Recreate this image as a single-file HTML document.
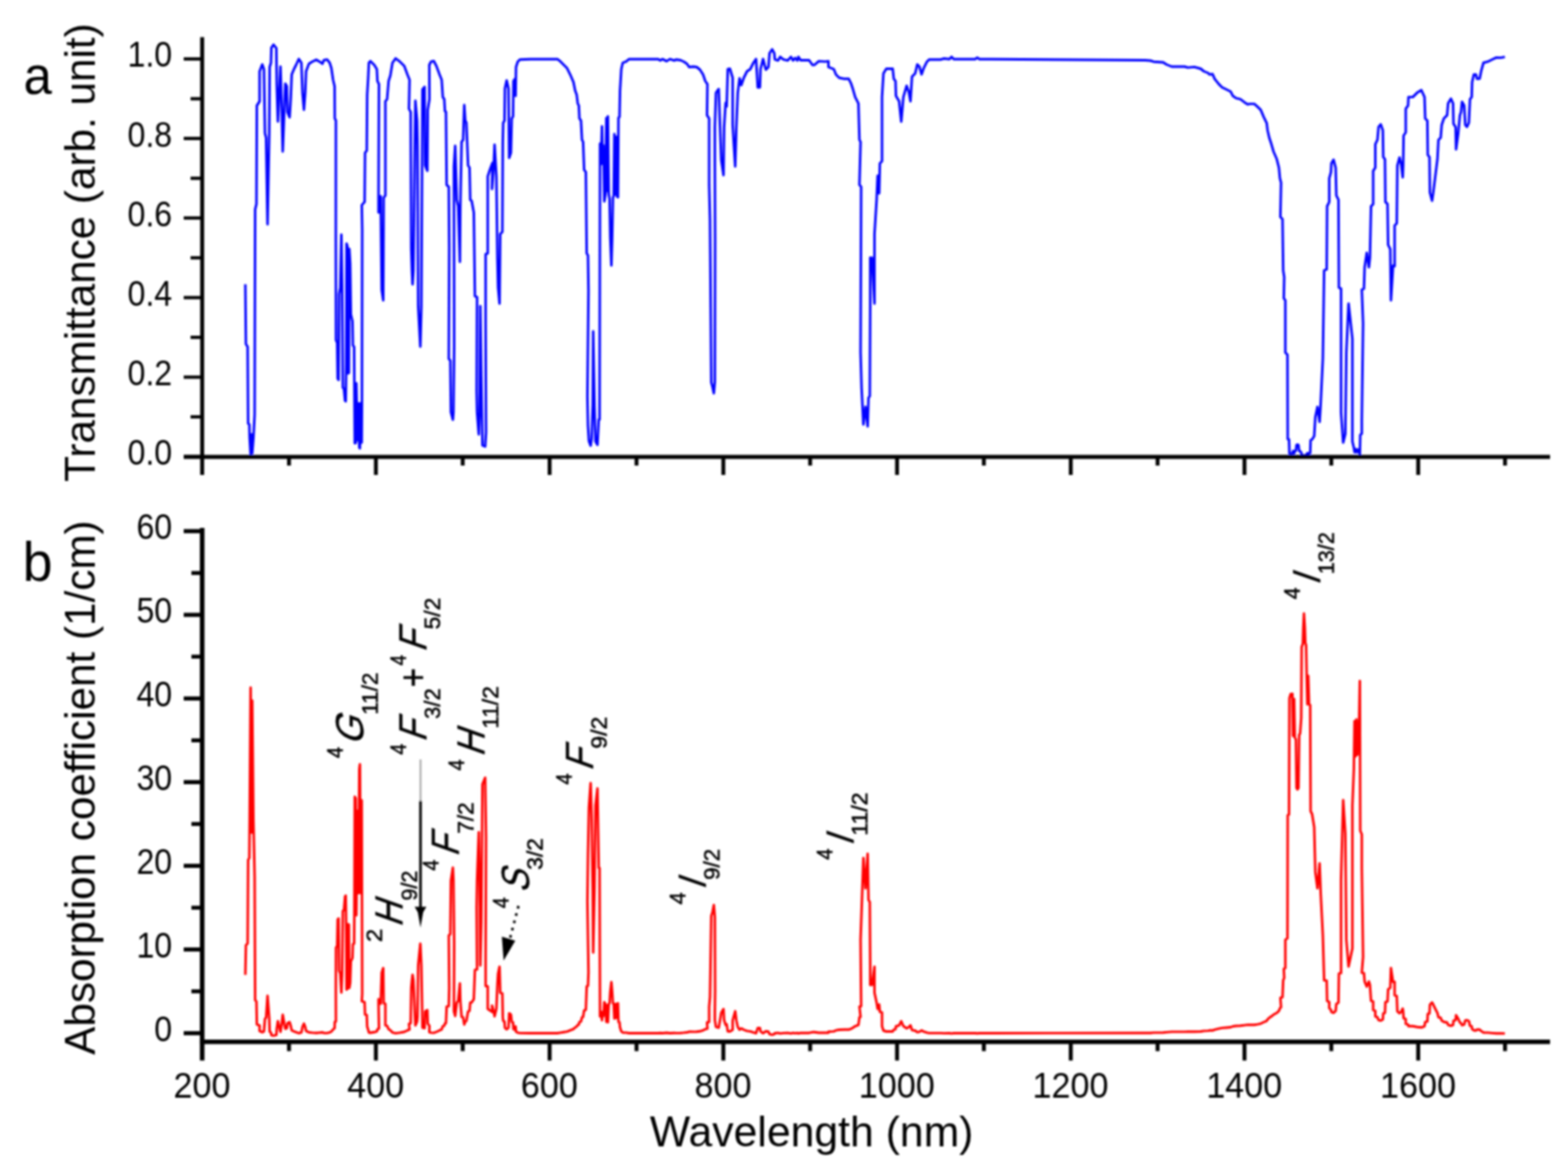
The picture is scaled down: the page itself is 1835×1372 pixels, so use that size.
<!DOCTYPE html>
<html><head><meta charset="utf-8"><title>Spectra</title>
<style>html,body{margin:0;padding:0;background:#fff;}svg{display:block;}</style></head>
<body>
<svg width="1835" height="1372" viewBox="0 0 1835 1372">
<defs><filter id="bl" x="-2%" y="-2%" width="104%" height="104%"><feGaussianBlur stdDeviation="0.85"/></filter></defs>
<rect width="1835" height="1372" fill="#fff"/>
<g filter="url(#bl)">
<polyline fill="none" stroke="#0000ff" stroke-width="2.9" stroke-linejoin="round" points="287.1,332.7 287.8,402.8 289.8,406.0 290.4,495.9 291.8,496.8 292.2,513.1 293.3,531.3 294.4,508.4 295.2,530.6 296.6,512.6 298.0,485.1 298.6,245.1 300.1,238.9 300.6,123.6 303.8,118.6 303.8,83.5 306.9,75.4 308.9,81.0 310.1,156.2 311.4,161.2 313.1,262.6 315.1,156.2 315.6,78.5 317.1,73.5 317.6,55.9 320.1,52.3 323.4,56.4 323.9,98.6 325.2,142.3 328.2,77.9 329.4,116.1 330.9,177.4 332.7,128.6 333.9,98.0 335.7,101.1 336.4,131.1 338.9,137.3 340.2,116.1 341.4,87.3 344.0,81.0 346.5,76.0 349.7,69.1 352.7,73.5 354.0,108.6 355.7,128.5 357.2,108.6 358.2,83.5 361.5,74.7 365.3,72.2 370.3,69.9 374.0,72.2 377.3,74.6 379.0,70.5 382.8,69.7 385.8,73.5 387.8,79.8 389.8,93.5 391.6,101.1 391.8,138.7 393.1,141.0 393.0,282.3 393.2,398.2 394.6,401.2 395.2,443.3 396.2,444.8 396.9,344.2 398.2,337.1 399.5,274.7 400.4,334.7 401.2,453.8 402.5,454.8 403.8,469.0 404.6,469.8 405.2,426.2 405.6,285.3 406.6,288.4 407.5,437.1 408.3,436.4 408.8,291.4 409.8,308.6 410.6,368.2 412.5,376.2 413.0,404.4 414.4,406.0 414.7,447.7 415.2,518.9 416.3,518.6 417.0,448.7 418.4,515.4 419.5,472.2 420.5,524.0 421.2,524.8 422.0,472.2 422.5,518.2 423.3,518.1 423.6,472.2 423.9,269.6 423.4,240.1 426.7,236.4 427.2,178.8 429.2,176.3 429.7,111.1 430.9,91.0 431.7,73.5 433.4,71.6 438.0,76.0 441.0,81.0 441.7,94.8 443.5,98.6 443.0,228.9 443.0,248.8 445.5,229.6 446.7,339.2 448.5,351.6 449.0,231.4 451.0,228.9 451.0,118.6 453.0,116.1 454.8,94.8 456.8,88.5 459.3,73.5 463.0,68.4 468.0,72.2 473.1,77.2 476.8,87.3 479.3,93.5 478.6,127.4 480.6,131.1 481.3,291.6 482.1,316.7 482.8,332.8 483.8,316.7 486.1,118.0 488.1,141.2 488.6,169.9 489.4,358.4 491.9,405.7 493.1,358.4 494.4,104.7 496.9,101.7 497.6,193.8 500.1,199.9 500.6,128.6 502.6,116.1 502.4,76.0 504.4,72.2 507.7,71.5 510.7,77.2 514.4,87.3 516.9,93.5 518.2,113.6 519.9,116.1 520.7,129.9 521.9,131.1 522.7,216.4 525.2,218.9 525.7,290.2 525.2,420.0 527.0,422.1 527.7,482.4 530.0,491.3 530.7,482.4 531.5,405.0 531.2,194.9 532.7,170.7 534.5,233.9 536.2,241.5 538.2,306.5 538.7,241.5 540.2,166.2 542.0,163.7 543.3,123.0 544.5,141.2 545.8,143.7 547.8,193.8 549.5,196.3 550.3,233.9 552.0,235.2 554.5,249.0 555.8,346.7 558.3,347.8 557.8,457.7 558.3,482.4 560.3,508.5 561.3,482.4 562.1,358.4 563.3,441.0 564.6,521.5 567.8,522.7 568.8,506.3 568.3,378.8 568.3,297.7 570.8,296.6 570.8,206.4 573.3,198.8 576.3,190.7 575.8,221.2 577.8,193.8 578.8,169.4 580.9,206.4 582.1,301.6 582.9,336.7 584.6,355.4 585.4,274.0 587.9,271.5 588.4,166.2 588.9,143.7 590.4,141.2 590.9,103.6 592.9,94.2 595.1,103.6 595.9,184.9 597.9,178.8 598.9,138.7 600.4,136.2 600.9,94.8 602.2,92.9 603.4,112.2 603.9,78.5 605.9,72.2 608.4,69.7 621.0,69.2 652.3,69.2 656.1,72.2 659.8,76.0 663.6,79.8 667.3,87.3 671.1,96.1 673.1,106.1 674.9,111.1 676.1,121.1 677.4,123.6 678.1,138.7 679.9,141.2 681.1,163.7 682.4,166.2 683.6,198.8 685.6,201.3 686.6,296.6 688.1,299.1 688.7,340.3 687.4,464.5 688.1,498.5 689.2,516.2 691.2,521.7 692.4,513.8 693.7,473.7 694.2,388.0 695.7,475.6 696.9,516.8 699.2,520.7 700.7,491.2 701.7,491.0 702.2,168.3 703.2,192.5 704.5,147.9 705.4,191.5 706.2,170.3 707.2,235.8 708.6,226.9 709.6,138.3 710.5,223.5 711.4,136.3 712.4,226.9 713.4,232.9 714.2,277.9 715.5,310.8 716.4,278.9 717.3,231.9 718.2,228.9 719.0,157.0 720.0,227.5 721.0,160.3 722.0,229.9 723.2,230.9 723.8,137.9 725.0,136.9 725.6,105.9 727.1,81.0 728.8,73.5 732.6,72.2 736.3,69.2 770.2,69.2 772.7,70.8 775.2,69.1 780.2,71.6 784.0,69.1 789.0,70.8 791.5,69.7 796.5,70.5 800.3,72.2 804.0,74.7 806.5,78.5 811.6,78.0 815.3,78.5 819.1,81.5 822.8,87.3 825.3,94.8 827.9,98.6 827.4,134.9 829.9,138.7 829.9,216.4 830.9,257.6 832.4,447.7 833.9,453.1 835.4,460.4 836.6,446.6 836.9,279.9 836.6,189.9 836.6,148.7 837.9,108.6 841.1,104.2 842.4,141.2 844.1,187.6 846.7,205.0 847.4,148.7 849.2,120.5 850.4,124.7 851.7,81.0 854.2,80.5 857.4,91.0 857.4,146.2 860.4,194.9 861.7,148.7 863.4,108.6 865.5,91.7 867.5,99.7 870.5,91.0 874.2,83.5 878.0,81.0 881.7,73.5 884.8,69.1 886.8,102.3 889.3,102.3 890.0,81.0 893.0,69.1 896.3,81.6 899.3,78.5 900.6,62.2 903.6,57.8 906.1,62.2 906.8,69.7 910.6,70.8 913.1,66.6 916.8,69.7 921.9,70.8 925.6,66.6 928.1,70.8 930.6,67.9 933.1,70.8 934.4,66.6 936.9,70.5 946.9,70.5 950.7,76.0 953.2,76.0 958.2,71.6 965.7,72.1 969.5,71.6 969.5,78.5 975.8,81.0 978.3,87.3 982.0,91.0 988.3,92.3 993.3,92.3 995.8,97.3 998.3,104.8 1000.8,113.6 1004.6,121.1 1005.8,163.7 1007.1,166.2 1005.8,216.4 1007.8,218.7 1007.1,412.7 1008.3,454.3 1010.4,496.9 1012.9,476.3 1015.4,499.1 1016.4,465.8 1017.9,463.6 1018.4,358.4 1018.4,301.6 1020.4,301.6 1023.4,355.4 1023.4,274.0 1025.9,233.9 1027.1,205.8 1028.9,226.3 1029.7,191.3 1032.2,188.8 1032.2,113.6 1033.9,86.0 1037.2,80.5 1044.7,80.5 1046.0,92.3 1048.0,94.8 1048.5,112.3 1052.2,118.6 1054.7,142.3 1057.2,113.6 1061.0,100.5 1063.5,107.3 1065.5,118.5 1067.3,89.8 1071.0,86.0 1073.5,75.4 1076.0,78.0 1078.5,87.1 1081.0,79.8 1084.8,72.2 1087.3,69.7 1101.1,69.7 1104.9,68.5 1111.1,69.2 1113.6,66.6 1116.1,69.2 1141.2,69.2 1143.7,67.4 1146.2,69.2 1160.0,69.2 1340.0,70.5 1346.3,71.0 1350.0,72.2 1361.3,73.0 1365.1,75.5 1371.3,78.0 1386.4,78.0 1390.1,79.1 1397.7,78.4 1405.2,80.5 1408.9,83.5 1414.0,85.5 1415.2,87.1 1419.0,86.7 1421.5,92.3 1426.5,98.6 1430.2,102.3 1435.3,104.8 1440.3,107.3 1442.8,112.3 1446.5,114.9 1451.6,116.1 1456.6,119.9 1460.3,122.2 1462.8,121.6 1467.9,121.6 1471.6,124.9 1475.4,128.6 1479.1,137.4 1482.4,144.2 1483.4,152.5 1485.4,161.2 1487.9,168.8 1490.4,177.5 1494.2,186.3 1496.7,196.3 1497.9,208.9 1499.2,213.9 1498.4,254.0 1500.9,256.5 1501.7,316.7 1502.9,324.2 1502.4,349.2 1504.2,351.6 1504.2,412.7 1506.7,415.2 1507.0,514.1 1508.5,514.4 1509.0,530.8 1510.5,531.0 1512.5,531.0 1513.2,528.0 1514.5,530.7 1515.3,527.9 1516.6,527.7 1517.3,520.8 1518.4,520.5 1519.6,520.8 1520.4,528.1 1521.5,528.3 1522.8,529.5 1523.3,532.8 1524.7,532.9 1525.2,533.2 1526.0,533.5 1527.0,533.2 1527.6,532.9 1528.5,532.8 1529.2,531.9 1530.0,530.4 1531.0,531.8 1532.0,530.4 1533.3,530.4 1533.8,515.3 1535.5,514.5 1538.0,510.4 1539.3,488.4 1541.8,476.3 1544.3,493.9 1545.6,471.8 1548.1,420.0 1549.6,316.5 1552.6,315.4 1553.1,241.5 1555.6,236.4 1555.6,208.9 1557.6,201.3 1558.1,191.3 1560.6,187.0 1563.1,196.3 1563.9,228.9 1566.4,233.9 1566.9,336.7 1569.4,337.8 1569.4,483.0 1571.9,518.1 1574.4,508.0 1575.6,412.7 1578.2,355.5 1582.7,396.8 1582.7,516.8 1584.4,524.1 1585.2,529.3 1586.3,525.8 1587.4,529.4 1588.6,526.0 1589.6,529.2 1590.6,529.3 1591.4,531.6 1591.9,509.1 1593.7,507.7 1593.7,491.2 1595.2,378.8 1593.7,339.1 1596.2,338.0 1597.0,312.9 1599.5,296.0 1602.0,312.8 1603.2,301.6 1604.5,241.5 1607.0,238.9 1607.0,200.1 1609.5,196.3 1609.5,168.8 1612.0,163.7 1613.3,148.7 1615.8,145.6 1618.3,152.5 1618.8,183.8 1620.8,186.3 1621.3,236.4 1623.8,238.9 1624.5,286.6 1627.0,291.6 1627.8,351.6 1630.3,311.0 1632.1,311.5 1632.1,264.0 1634.6,261.5 1635.3,193.8 1637.8,184.4 1639.6,191.3 1641.6,207.5 1642.1,193.8 1642.6,158.7 1645.1,155.0 1645.1,127.4 1647.8,123.6 1648.3,113.6 1653.4,113.6 1658.4,108.6 1663.4,105.5 1667.1,113.6 1667.9,138.7 1670.4,141.2 1670.9,181.3 1672.9,183.8 1673.4,225.2 1675.9,235.0 1677.2,226.4 1679.7,206.4 1682.2,186.3 1683.4,163.7 1686.0,161.2 1687.2,146.2 1689.7,138.7 1693.5,134.9 1694.7,121.1 1698.0,115.5 1700.5,121.1 1701.0,144.9 1703.5,148.7 1704.0,174.9 1706.5,156.2 1708.5,134.9 1709.8,131.1 1711.0,119.3 1713.5,123.6 1714.8,146.2 1716.8,148.5 1719.0,143.7 1720.3,116.1 1722.3,113.6 1722.8,96.1 1724.8,87.3 1727.3,87.3 1728.6,92.3 1731.6,92.1 1733.6,82.3 1736.1,73.5 1741.1,72.2 1746.1,69.7 1751.1,67.4 1756.1,67.6 1761.2,66.6"/>
<polyline fill="none" stroke="#ff0000" stroke-width="2.9" stroke-linejoin="round" points="287.1,1141.3 287.8,1106.5 289.8,1104.5 290.4,1006.5 291.8,1004.5 292.2,958.5 293.3,805.0 294.4,974.5 295.2,820.3 296.6,960.5 298.0,1026.5 298.6,1170.7 300.1,1172.4 300.6,1199.3 303.8,1200.3 303.8,1206.9 306.9,1208.4 308.9,1207.4 310.1,1192.6 311.4,1191.5 313.1,1165.6 315.1,1192.6 315.6,1207.8 317.1,1208.7 317.6,1211.8 320.1,1212.4 323.4,1211.7 323.9,1204.1 325.2,1195.5 328.2,1207.9 329.4,1200.8 330.9,1187.9 332.7,1198.3 333.9,1204.3 335.7,1203.7 336.4,1197.8 338.9,1196.6 340.2,1200.8 341.4,1206.2 344.0,1207.4 346.5,1208.3 349.7,1209.5 352.7,1208.7 354.0,1202.2 355.7,1198.3 357.2,1202.2 358.2,1206.9 361.5,1208.5 365.3,1208.9 370.3,1209.3 374.0,1208.9 377.3,1208.5 379.0,1209.2 382.8,1209.4 385.8,1208.7 387.8,1207.6 389.8,1205.1 391.6,1203.7 391.8,1196.3 393.1,1195.8 393.0,1159.5 393.2,1109.3 394.6,1107.5 395.2,1076.5 396.2,1075.2 396.9,1136.5 398.2,1139.5 399.5,1161.9 400.4,1140.5 401.2,1066.5 402.5,1065.5 403.8,1049.5 404.6,1048.5 405.2,1090.5 405.6,1158.5 406.6,1157.5 407.5,1081.9 408.3,1082.5 408.8,1156.5 409.8,1150.5 410.6,1125.5 412.5,1121.5 413.0,1105.5 414.4,1104.5 414.7,1072.5 415.2,932.8 416.3,934.5 417.0,1071.5 418.4,949.3 419.5,1045.5 420.5,900.5 421.2,894.7 422.0,1045.5 422.5,936.5 423.3,937.0 423.6,1045.5 423.9,1163.5 423.4,1172.1 426.7,1173.1 427.2,1187.6 429.2,1188.1 429.7,1201.8 430.9,1205.5 431.7,1208.7 433.4,1209.0 438.0,1208.3 441.0,1207.4 441.7,1204.8 443.5,1204.1 443.0,1175.2 443.0,1169.7 445.5,1175.0 446.7,1138.6 448.5,1133.3 449.0,1174.5 451.0,1175.2 451.0,1200.3 453.0,1200.8 454.8,1204.8 456.8,1206.0 459.3,1208.7 463.0,1209.6 468.0,1208.9 473.1,1208.0 476.8,1206.2 479.3,1205.1 478.6,1198.6 480.6,1197.8 481.3,1156.4 482.1,1147.5 482.8,1141.3 483.8,1147.5 486.1,1200.4 488.1,1195.8 488.6,1189.6 489.4,1130.2 491.9,1104.7 493.1,1130.2 494.4,1203.0 496.9,1203.6 497.6,1184.0 500.1,1182.5 500.6,1198.3 502.6,1200.8 502.4,1208.3 504.4,1208.9 507.7,1209.1 510.7,1208.0 514.4,1206.2 516.9,1205.1 518.2,1201.3 519.9,1200.8 520.7,1198.1 521.9,1197.8 522.7,1178.4 525.2,1177.8 525.7,1156.9 525.2,1095.1 527.0,1093.6 527.7,1030.9 530.0,1015.7 530.7,1030.9 531.5,1105.1 531.2,1183.8 532.7,1189.4 534.5,1173.8 536.2,1171.7 538.2,1151.3 538.7,1171.7 540.2,1190.4 542.0,1190.9 543.3,1199.4 544.5,1195.8 545.8,1195.2 547.8,1184.0 549.5,1183.4 550.3,1173.8 552.0,1173.5 554.5,1169.6 555.8,1135.4 558.3,1134.9 557.8,1062.5 558.3,1030.9 560.3,974.3 561.3,1030.9 562.1,1130.2 563.3,1078.5 564.6,918.1 567.8,910.4 568.8,980.8 568.3,1120.2 568.3,1154.3 570.8,1154.7 570.8,1181.0 573.3,1182.8 576.3,1184.8 575.8,1177.2 577.8,1184.0 578.8,1189.7 580.9,1181.0 582.1,1153.0 582.9,1139.7 584.6,1131.6 585.4,1162.1 587.9,1162.9 588.4,1190.4 588.9,1195.2 590.4,1195.8 590.9,1203.2 592.9,1205.0 595.1,1203.2 595.9,1186.1 597.9,1187.6 598.9,1196.3 600.4,1196.8 600.9,1204.8 602.2,1205.2 603.4,1201.6 603.9,1207.8 605.9,1208.9 608.4,1209.4 621.0,1209.5 652.3,1209.5 656.1,1208.9 659.8,1208.3 663.6,1207.6 667.3,1206.2 671.1,1204.6 673.1,1202.7 674.9,1201.8 676.1,1199.8 677.4,1199.3 678.1,1196.3 679.9,1195.8 681.1,1190.9 682.4,1190.4 683.6,1182.8 685.6,1182.2 686.6,1154.7 688.1,1153.9 688.7,1138.2 687.4,1055.0 688.1,1000.8 689.2,945.7 691.2,916.6 692.4,955.7 693.7,1043.4 694.2,1115.1 695.7,1040.9 696.9,943.2 699.2,922.9 700.7,1015.9 701.7,1016.1 702.2,1189.9 703.2,1184.3 704.5,1194.3 705.4,1184.6 706.2,1189.5 707.2,1173.3 708.6,1175.7 709.6,1196.3 710.5,1176.6 711.4,1196.8 712.4,1175.7 713.4,1174.1 714.2,1160.9 715.5,1149.7 716.4,1160.6 717.3,1174.4 718.2,1175.2 719.0,1192.4 720.0,1175.5 721.0,1191.7 722.0,1174.9 723.2,1174.6 723.8,1196.4 725.0,1196.6 725.6,1202.8 727.1,1207.4 728.8,1208.7 732.6,1208.9 736.3,1209.5 770.2,1209.5 772.7,1209.2 775.2,1209.5 780.2,1209.0 784.0,1209.5 789.0,1209.2 791.5,1209.4 796.5,1209.2 800.3,1208.9 804.0,1208.5 806.5,1207.8 811.6,1207.9 815.3,1207.8 819.1,1207.3 822.8,1206.2 825.3,1204.8 827.9,1204.1 827.4,1197.0 829.9,1196.3 829.9,1178.4 830.9,1167.1 832.4,1072.5 833.9,1067.3 835.4,1059.5 836.6,1073.5 836.9,1160.3 836.6,1185.0 836.6,1194.2 837.9,1202.2 841.1,1203.1 842.4,1195.8 844.1,1185.5 846.7,1181.3 847.4,1194.2 849.2,1199.9 850.4,1199.1 851.7,1207.4 854.2,1207.5 857.4,1205.5 857.4,1194.7 860.4,1183.8 861.7,1194.2 863.4,1202.2 865.5,1205.4 867.5,1203.9 870.5,1205.5 874.2,1206.9 878.0,1207.4 881.7,1208.7 884.8,1209.5 886.8,1203.4 889.3,1203.4 890.0,1207.4 893.0,1209.5 896.3,1207.3 899.3,1207.8 900.6,1210.7 903.6,1211.4 906.1,1210.7 906.8,1209.4 910.6,1209.2 913.1,1209.9 916.8,1209.4 921.9,1209.2 925.6,1209.9 928.1,1209.2 930.6,1209.7 933.1,1209.2 934.4,1209.9 936.9,1209.2 946.9,1209.2 950.7,1208.3 953.2,1208.3 958.2,1209.0 965.7,1209.0 969.5,1209.0 969.5,1207.8 975.8,1207.4 978.3,1206.2 982.0,1205.5 988.3,1205.3 993.3,1205.3 995.8,1204.4 998.3,1203.0 1000.8,1201.3 1004.6,1199.8 1005.8,1190.9 1007.1,1190.4 1005.8,1178.4 1007.8,1177.8 1007.1,1100.1 1008.3,1066.0 1010.4,1004.4 1012.9,1039.9 1015.4,999.4 1016.4,1053.5 1017.9,1056.0 1018.4,1130.2 1018.4,1153.0 1020.4,1153.0 1023.4,1131.6 1023.4,1162.1 1025.9,1173.8 1027.1,1181.1 1028.9,1175.9 1029.7,1184.6 1032.2,1185.2 1032.2,1201.3 1033.9,1206.5 1037.2,1207.5 1044.7,1207.5 1046.0,1205.3 1048.0,1204.8 1048.5,1201.5 1052.2,1200.3 1054.7,1195.5 1057.2,1201.3 1061.0,1203.8 1063.5,1202.5 1065.5,1200.3 1067.3,1205.8 1071.0,1206.5 1073.5,1208.4 1076.0,1207.9 1078.5,1206.3 1081.0,1207.6 1084.8,1208.9 1087.3,1209.4 1101.1,1209.4 1104.9,1209.6 1111.1,1209.5 1113.6,1209.9 1116.1,1209.5 1141.2,1209.5 1143.7,1209.8 1146.2,1209.5 1160.0,1209.5 1340.0,1209.2 1346.3,1209.2 1350.0,1208.9 1361.3,1208.8 1365.1,1208.4 1371.3,1207.9 1386.4,1207.9 1390.1,1207.7 1397.7,1207.8 1405.2,1207.5 1408.9,1206.9 1414.0,1206.6 1415.2,1206.3 1419.0,1206.3 1421.5,1205.3 1426.5,1204.1 1430.2,1203.4 1435.3,1203.0 1440.3,1202.5 1442.8,1201.5 1446.5,1201.0 1451.6,1200.8 1456.6,1200.1 1460.3,1199.6 1462.8,1199.7 1467.9,1199.7 1471.6,1199.1 1475.4,1198.3 1479.1,1196.5 1482.4,1195.1 1483.4,1193.4 1485.4,1191.5 1487.9,1189.8 1490.4,1187.8 1494.2,1185.8 1496.7,1183.4 1497.9,1180.3 1499.2,1179.1 1498.4,1168.2 1500.9,1167.4 1501.7,1147.5 1502.9,1144.7 1502.4,1134.3 1504.2,1133.3 1504.2,1100.1 1506.7,1098.4 1507.0,954.5 1508.5,953.5 1509.0,817.5 1510.5,812.5 1512.5,812.3 1513.2,861.5 1514.5,818.3 1515.3,863.5 1516.6,865.5 1517.3,922.5 1518.4,924.1 1519.6,922.5 1520.4,860.5 1521.5,858.5 1522.8,840.5 1523.3,757.5 1524.7,753.5 1525.2,735.5 1526.0,718.3 1527.0,734.5 1527.6,752.5 1528.5,755.5 1529.2,790.5 1530.0,824.5 1531.0,791.3 1532.0,824.5 1533.3,825.5 1533.8,949.5 1535.5,953.0 1538.0,968.2 1539.3,1020.9 1541.8,1039.9 1544.3,1010.7 1545.6,1046.0 1548.1,1095.1 1549.6,1147.6 1552.6,1148.0 1553.1,1171.7 1555.6,1173.1 1555.6,1180.3 1557.6,1182.2 1558.1,1184.6 1560.6,1185.7 1563.1,1183.4 1563.9,1175.2 1566.4,1173.8 1566.9,1139.7 1569.4,1139.2 1569.4,1029.9 1571.9,936.7 1574.4,975.8 1575.6,1100.1 1578.2,1131.5 1582.7,1110.1 1582.7,943.0 1584.4,900.1 1585.2,844.3 1586.3,885.5 1587.4,842.3 1588.6,883.5 1589.6,845.5 1590.6,843.5 1591.4,797.3 1591.9,972.5 1593.7,976.8 1593.7,1015.9 1595.2,1120.2 1593.7,1138.7 1596.2,1139.1 1597.0,1148.9 1599.5,1154.9 1602.0,1149.0 1603.2,1153.0 1604.5,1171.7 1607.0,1172.4 1607.0,1182.5 1609.5,1183.4 1609.5,1189.8 1612.0,1190.9 1613.3,1194.2 1615.8,1194.8 1618.3,1193.4 1618.8,1186.4 1620.8,1185.8 1621.3,1173.1 1623.8,1172.4 1624.5,1158.1 1627.0,1156.4 1627.8,1133.3 1630.3,1149.6 1632.1,1149.4 1632.1,1165.2 1634.6,1166.0 1635.3,1184.0 1637.8,1186.2 1639.6,1184.6 1641.6,1180.7 1642.1,1184.0 1642.6,1192.0 1645.1,1192.8 1645.1,1198.6 1647.8,1199.3 1648.3,1201.3 1653.4,1201.3 1658.4,1202.2 1663.4,1202.8 1667.1,1201.3 1667.9,1196.3 1670.4,1195.8 1670.9,1187.0 1672.9,1186.4 1673.4,1176.2 1675.9,1173.5 1677.2,1175.8 1679.7,1181.0 1682.2,1185.8 1683.4,1190.9 1686.0,1191.5 1687.2,1194.7 1689.7,1196.3 1693.5,1197.0 1694.7,1199.8 1698.0,1200.9 1700.5,1199.8 1701.0,1195.0 1703.5,1194.2 1704.0,1188.4 1706.5,1192.6 1708.5,1197.0 1709.8,1197.8 1711.0,1200.2 1713.5,1199.3 1714.8,1194.7 1716.8,1194.2 1719.0,1195.2 1720.3,1200.8 1722.3,1201.3 1722.8,1204.6 1724.8,1206.2 1727.3,1206.2 1728.6,1205.3 1731.6,1205.3 1733.6,1207.1 1736.1,1208.7 1741.1,1208.9 1746.1,1209.4 1751.1,1209.8 1756.1,1209.7 1761.2,1209.9"/>
<line x1="236.6" y1="43.5" x2="236.6" y2="556.0" stroke="#000" stroke-width="4.6"/>
<line x1="215.0" y1="534.8" x2="1814.0" y2="534.8" stroke="#000" stroke-width="4.8"/>
<line x1="215.0" y1="534.6" x2="236.6" y2="534.6" stroke="#000" stroke-width="3.8"/>
<line x1="215.0" y1="441.5" x2="236.6" y2="441.5" stroke="#000" stroke-width="3.8"/>
<line x1="215.0" y1="348.4" x2="236.6" y2="348.4" stroke="#000" stroke-width="3.8"/>
<line x1="215.0" y1="255.2" x2="236.6" y2="255.2" stroke="#000" stroke-width="3.8"/>
<line x1="215.0" y1="162.1" x2="236.6" y2="162.1" stroke="#000" stroke-width="3.8"/>
<line x1="215.0" y1="69.0" x2="236.6" y2="69.0" stroke="#000" stroke-width="3.8"/>
<line x1="223.0" y1="488.0" x2="236.6" y2="488.0" stroke="#000" stroke-width="3.8"/>
<line x1="223.0" y1="394.9" x2="236.6" y2="394.9" stroke="#000" stroke-width="3.8"/>
<line x1="223.0" y1="301.8" x2="236.6" y2="301.8" stroke="#000" stroke-width="3.8"/>
<line x1="223.0" y1="208.7" x2="236.6" y2="208.7" stroke="#000" stroke-width="3.8"/>
<line x1="223.0" y1="115.6" x2="236.6" y2="115.6" stroke="#000" stroke-width="3.8"/>
<line x1="439.9" y1="534.8" x2="439.9" y2="556.0" stroke="#000" stroke-width="4.5"/>
<line x1="643.2" y1="534.8" x2="643.2" y2="556.0" stroke="#000" stroke-width="4.5"/>
<line x1="846.5" y1="534.8" x2="846.5" y2="556.0" stroke="#000" stroke-width="4.5"/>
<line x1="1049.8" y1="534.8" x2="1049.8" y2="556.0" stroke="#000" stroke-width="4.5"/>
<line x1="1253.1" y1="534.8" x2="1253.1" y2="556.0" stroke="#000" stroke-width="4.5"/>
<line x1="1456.4" y1="534.8" x2="1456.4" y2="556.0" stroke="#000" stroke-width="4.5"/>
<line x1="1659.7" y1="534.8" x2="1659.7" y2="556.0" stroke="#000" stroke-width="4.5"/>
<line x1="338.2" y1="534.8" x2="338.2" y2="545.0" stroke="#000" stroke-width="4.5"/>
<line x1="541.5" y1="534.8" x2="541.5" y2="545.0" stroke="#000" stroke-width="4.5"/>
<line x1="744.9" y1="534.8" x2="744.9" y2="545.0" stroke="#000" stroke-width="4.5"/>
<line x1="948.1" y1="534.8" x2="948.1" y2="545.0" stroke="#000" stroke-width="4.5"/>
<line x1="1151.4" y1="534.8" x2="1151.4" y2="545.0" stroke="#000" stroke-width="4.5"/>
<line x1="1354.7" y1="534.8" x2="1354.7" y2="545.0" stroke="#000" stroke-width="4.5"/>
<line x1="1558.0" y1="534.8" x2="1558.0" y2="545.0" stroke="#000" stroke-width="4.5"/>
<line x1="1761.3" y1="534.8" x2="1761.3" y2="545.0" stroke="#000" stroke-width="4.5"/>
<line x1="236.6" y1="618.0" x2="236.6" y2="1241.5" stroke="#000" stroke-width="5.4"/>
<line x1="233.9" y1="1219.6" x2="1814.0" y2="1219.6" stroke="#000" stroke-width="5.4"/>
<line x1="215.0" y1="1209.5" x2="236.6" y2="1209.5" stroke="#000" stroke-width="4.8"/>
<line x1="215.0" y1="1111.5" x2="236.6" y2="1111.5" stroke="#000" stroke-width="4.8"/>
<line x1="215.0" y1="1013.6" x2="236.6" y2="1013.6" stroke="#000" stroke-width="4.8"/>
<line x1="215.0" y1="915.6" x2="236.6" y2="915.6" stroke="#000" stroke-width="4.8"/>
<line x1="215.0" y1="817.7" x2="236.6" y2="817.7" stroke="#000" stroke-width="4.8"/>
<line x1="215.0" y1="719.8" x2="236.6" y2="719.8" stroke="#000" stroke-width="4.8"/>
<line x1="215.0" y1="621.8" x2="236.6" y2="621.8" stroke="#000" stroke-width="4.8"/>
<line x1="224.0" y1="1160.5" x2="236.6" y2="1160.5" stroke="#000" stroke-width="4.6"/>
<line x1="224.0" y1="1062.6" x2="236.6" y2="1062.6" stroke="#000" stroke-width="4.6"/>
<line x1="224.0" y1="964.6" x2="236.6" y2="964.6" stroke="#000" stroke-width="4.6"/>
<line x1="224.0" y1="866.7" x2="236.6" y2="866.7" stroke="#000" stroke-width="4.6"/>
<line x1="224.0" y1="768.7" x2="236.6" y2="768.7" stroke="#000" stroke-width="4.6"/>
<line x1="224.0" y1="670.8" x2="236.6" y2="670.8" stroke="#000" stroke-width="4.6"/>
<line x1="439.9" y1="1219.6" x2="439.9" y2="1241.5" stroke="#000" stroke-width="4.6"/>
<line x1="643.2" y1="1219.6" x2="643.2" y2="1241.5" stroke="#000" stroke-width="4.6"/>
<line x1="846.5" y1="1219.6" x2="846.5" y2="1241.5" stroke="#000" stroke-width="4.6"/>
<line x1="1049.8" y1="1219.6" x2="1049.8" y2="1241.5" stroke="#000" stroke-width="4.6"/>
<line x1="1253.1" y1="1219.6" x2="1253.1" y2="1241.5" stroke="#000" stroke-width="4.6"/>
<line x1="1456.4" y1="1219.6" x2="1456.4" y2="1241.5" stroke="#000" stroke-width="4.6"/>
<line x1="1659.7" y1="1219.6" x2="1659.7" y2="1241.5" stroke="#000" stroke-width="4.6"/>
<line x1="338.2" y1="1219.6" x2="338.2" y2="1230.5" stroke="#000" stroke-width="4.6"/>
<line x1="541.5" y1="1219.6" x2="541.5" y2="1230.5" stroke="#000" stroke-width="4.6"/>
<line x1="744.9" y1="1219.6" x2="744.9" y2="1230.5" stroke="#000" stroke-width="4.6"/>
<line x1="948.1" y1="1219.6" x2="948.1" y2="1230.5" stroke="#000" stroke-width="4.6"/>
<line x1="1151.4" y1="1219.6" x2="1151.4" y2="1230.5" stroke="#000" stroke-width="4.6"/>
<line x1="1354.7" y1="1219.6" x2="1354.7" y2="1230.5" stroke="#000" stroke-width="4.6"/>
<line x1="1558.0" y1="1219.6" x2="1558.0" y2="1230.5" stroke="#000" stroke-width="4.6"/>
<line x1="1761.3" y1="1219.6" x2="1761.3" y2="1230.5" stroke="#000" stroke-width="4.6"/>
<text transform="translate(201.5,544.0) scale(0.895,1)" font-size="42" text-anchor="end" font-family="&quot;Liberation Sans&quot;, sans-serif" fill="#000" >0.0</text>
<text transform="translate(201.5,450.9) scale(0.895,1)" font-size="42" text-anchor="end" font-family="&quot;Liberation Sans&quot;, sans-serif" fill="#000" >0.2</text>
<text transform="translate(201.5,357.8) scale(0.895,1)" font-size="42" text-anchor="end" font-family="&quot;Liberation Sans&quot;, sans-serif" fill="#000" >0.4</text>
<text transform="translate(201.5,264.6) scale(0.895,1)" font-size="42" text-anchor="end" font-family="&quot;Liberation Sans&quot;, sans-serif" fill="#000" >0.6</text>
<text transform="translate(201.5,171.5) scale(0.895,1)" font-size="42" text-anchor="end" font-family="&quot;Liberation Sans&quot;, sans-serif" fill="#000" >0.8</text>
<text transform="translate(201.5,78.4) scale(0.895,1)" font-size="42" text-anchor="end" font-family="&quot;Liberation Sans&quot;, sans-serif" fill="#000" >1.0</text>
<text transform="translate(201.5,1219.1) scale(0.895,1)" font-size="42" text-anchor="end" font-family="&quot;Liberation Sans&quot;, sans-serif" fill="#000" >0</text>
<text transform="translate(201.5,1121.1) scale(0.895,1)" font-size="42" text-anchor="end" font-family="&quot;Liberation Sans&quot;, sans-serif" fill="#000" >10</text>
<text transform="translate(201.5,1023.2) scale(0.895,1)" font-size="42" text-anchor="end" font-family="&quot;Liberation Sans&quot;, sans-serif" fill="#000" >20</text>
<text transform="translate(201.5,925.2) scale(0.895,1)" font-size="42" text-anchor="end" font-family="&quot;Liberation Sans&quot;, sans-serif" fill="#000" >30</text>
<text transform="translate(201.5,827.3) scale(0.895,1)" font-size="42" text-anchor="end" font-family="&quot;Liberation Sans&quot;, sans-serif" fill="#000" >40</text>
<text transform="translate(201.5,729.4) scale(0.895,1)" font-size="42" text-anchor="end" font-family="&quot;Liberation Sans&quot;, sans-serif" fill="#000" >50</text>
<text transform="translate(201.5,631.4) scale(0.895,1)" font-size="42" text-anchor="end" font-family="&quot;Liberation Sans&quot;, sans-serif" fill="#000" >60</text>
<text transform="translate(236.3,1284.8) scale(0.93,1)" font-size="43" text-anchor="middle" font-family="&quot;Liberation Sans&quot;, sans-serif" fill="#000" >200</text>
<text transform="translate(439.6,1284.8) scale(0.93,1)" font-size="43" text-anchor="middle" font-family="&quot;Liberation Sans&quot;, sans-serif" fill="#000" >400</text>
<text transform="translate(642.9,1284.8) scale(0.93,1)" font-size="43" text-anchor="middle" font-family="&quot;Liberation Sans&quot;, sans-serif" fill="#000" >600</text>
<text transform="translate(846.2,1284.8) scale(0.93,1)" font-size="43" text-anchor="middle" font-family="&quot;Liberation Sans&quot;, sans-serif" fill="#000" >800</text>
<text transform="translate(1049.5,1284.8) scale(0.93,1)" font-size="43" text-anchor="middle" font-family="&quot;Liberation Sans&quot;, sans-serif" fill="#000" >1000</text>
<text transform="translate(1252.8,1284.8) scale(0.93,1)" font-size="43" text-anchor="middle" font-family="&quot;Liberation Sans&quot;, sans-serif" fill="#000" >1200</text>
<text transform="translate(1456.1,1284.8) scale(0.93,1)" font-size="43" text-anchor="middle" font-family="&quot;Liberation Sans&quot;, sans-serif" fill="#000" >1400</text>
<text transform="translate(1659.4,1284.8) scale(0.93,1)" font-size="43" text-anchor="middle" font-family="&quot;Liberation Sans&quot;, sans-serif" fill="#000" >1600</text>
<text transform="translate(949.8,1342.0) scale(1.0,1)" font-size="50" text-anchor="middle" font-family="&quot;Liberation Sans&quot;, sans-serif" fill="#000" >Wavelength (nm)</text>
<text transform="translate(27.5,110.0) scale(0.94,1)" font-size="63.5" text-anchor="start" font-family="&quot;Liberation Sans&quot;, sans-serif" fill="#000" >a</text>
<text transform="translate(26.5,680.0) scale(0.96,1)" font-size="65.5" text-anchor="start" font-family="&quot;Liberation Sans&quot;, sans-serif" fill="#000" >b</text>
<text transform="translate(111,295.7) rotate(-90) scale(0.989,1)" font-size="50" text-anchor="middle" font-family="&quot;Liberation Sans&quot;, sans-serif" fill="#000">Transmittance (arb. unit)</text>
<text transform="translate(111,922) rotate(-90) scale(0.989,1)" font-size="50" text-anchor="middle" font-family="&quot;Liberation Sans&quot;, sans-serif" fill="#000">Absorption coefficient (1/cm)</text>
<g transform="translate(425.4,887.6) rotate(-90)" font-family="&quot;Liberation Sans&quot;, sans-serif" fill="#000">
<text transform="translate(0.03,-24.3) scale(0.907,1)" font-size="26.0" stroke="#000" stroke-width="0.6">4</text>
<text transform="translate(14.44,0.0) scale(0.932,1) skewX(-22.0)" font-size="46.0" stroke="#000" stroke-width="0.45">G</text>
<text transform="translate(50.87,16.3) scale(1.016,1)" font-size="26.0" stroke="#000" stroke-width="0.6">11/2</text>
</g>
<g transform="translate(471.2,1101.9) rotate(-90)" font-family="&quot;Liberation Sans&quot;, sans-serif" fill="#000">
<text transform="translate(-0.74,-24.3) scale(1.069,1)" font-size="26.0" stroke="#000" stroke-width="0.6">2</text>
<text transform="translate(16.16,0.0) scale(0.878,1) skewX(-22.0)" font-size="46.0" stroke="#000" stroke-width="0.45">H</text>
<text transform="translate(47.59,16.3) scale(0.970,1)" font-size="26.0" stroke="#000" stroke-width="0.6">9/2</text>
</g>
<g transform="translate(499.0,883.5) rotate(-90)" font-family="&quot;Liberation Sans&quot;, sans-serif" fill="#000">
<text transform="translate(0.04,-24.3) scale(0.899,1)" font-size="26.0" stroke="#000" stroke-width="0.6">4</text>
<text transform="translate(14.39,0.0) scale(0.871,1) skewX(-22.0)" font-size="46.0" stroke="#000" stroke-width="0.45">F</text>
<text transform="translate(42.12,16.3) scale(0.981,1)" font-size="26.0" stroke="#000" stroke-width="0.6">3/2</text>
<text transform="translate(78.77,0.0) scale(0.858,1)" font-size="46.0" stroke="#000" stroke-width="0.45">+</text>
<text transform="translate(104.57,-24.3) scale(0.853,1)" font-size="26.0" stroke="#000" stroke-width="0.6">4</text>
<text transform="translate(119.78,0.0) scale(0.874,1) skewX(-22.0)" font-size="46.0" stroke="#000" stroke-width="0.45">F</text>
<text transform="translate(146.67,16.3) scale(1.031,1)" font-size="26.0" stroke="#000" stroke-width="0.6">5/2</text>
</g>
<g transform="translate(537.4,1019.3) rotate(-90)" font-family="&quot;Liberation Sans&quot;, sans-serif" fill="#000">
<text transform="translate(0.04,-24.3) scale(0.899,1)" font-size="26.0" stroke="#000" stroke-width="0.6">4</text>
<text transform="translate(16.10,0.0) scale(0.869,1) skewX(-22.0)" font-size="46.0" stroke="#000" stroke-width="0.45">F</text>
<text transform="translate(43.30,16.3) scale(1.019,1)" font-size="26.0" stroke="#000" stroke-width="0.6">7/2</text>
</g>
<g transform="translate(566.8,902.0) rotate(-90)" font-family="&quot;Liberation Sans&quot;, sans-serif" fill="#000">
<text transform="translate(0.04,-24.3) scale(0.899,1)" font-size="26.0" stroke="#000" stroke-width="0.6">4</text>
<text transform="translate(15.75,0.0) scale(0.881,1) skewX(-22.0)" font-size="46.0" stroke="#000" stroke-width="0.45">H</text>
<text transform="translate(48.95,16.3) scale(1.023,1)" font-size="26.0" stroke="#000" stroke-width="0.6">11/2</text>
</g>
<g transform="translate(618.9,1063.3) rotate(-90)" font-family="&quot;Liberation Sans&quot;, sans-serif" fill="#000">
<text transform="translate(0.04,-24.3) scale(0.899,1)" font-size="26.0" stroke="#000" stroke-width="0.6">4</text>
<text transform="translate(17.76,0.0) scale(0.853,1) skewX(-22.0)" font-size="46.0" stroke="#000" stroke-width="0.45">S</text>
<text transform="translate(45.07,16.3) scale(1.028,1)" font-size="26.0" stroke="#000" stroke-width="0.6">3/2</text>
</g>
<g transform="translate(693.5,918.5) rotate(-90)" font-family="&quot;Liberation Sans&quot;, sans-serif" fill="#000">
<text transform="translate(0.03,-24.3) scale(0.914,1)" font-size="26.0" stroke="#000" stroke-width="0.6">4</text>
<text transform="translate(15.16,0.0) scale(0.906,1) skewX(-22.0)" font-size="46.0" stroke="#000" stroke-width="0.45">F</text>
<text transform="translate(41.90,16.3) scale(1.039,1)" font-size="26.0" stroke="#000" stroke-width="0.6">9/2</text>
</g>
<g transform="translate(826.0,1058.7) rotate(-90)" font-family="&quot;Liberation Sans&quot;, sans-serif" fill="#000">
<text transform="translate(-0.02,-24.3) scale(0.990,1)" font-size="26.0" stroke="#000" stroke-width="0.6">4</text>
<text transform="translate(16.58,0.0) scale(0.850,1) skewX(-22.0)" font-size="46.0" stroke="#000" stroke-width="0.45">I</text>
<text transform="translate(28.64,16.3) scale(1.012,1)" font-size="26.0" stroke="#000" stroke-width="0.6">9/2</text>
</g>
<g transform="translate(998.7,1006.6) rotate(-90)" font-family="&quot;Liberation Sans&quot;, sans-serif" fill="#000">
<text transform="translate(0.03,-24.3) scale(0.914,1)" font-size="26.0" stroke="#000" stroke-width="0.6">4</text>
<text transform="translate(15.83,0.0) scale(0.854,1) skewX(-22.0)" font-size="46.0" stroke="#000" stroke-width="0.45">I</text>
<text transform="translate(28.32,16.3) scale(1.040,1)" font-size="26.0" stroke="#000" stroke-width="0.6">11/2</text>
</g>
<g transform="translate(1544.9,701.4) rotate(-90)" font-family="&quot;Liberation Sans&quot;, sans-serif" fill="#000">
<text transform="translate(0.00,-24.3) scale(0.952,1)" font-size="26.0" stroke="#000" stroke-width="0.6">4</text>
<text transform="translate(15.88,0.0) scale(0.850,1) skewX(-22.0)" font-size="46.0" stroke="#000" stroke-width="0.45">I</text>
<text transform="translate(29.05,16.3) scale(0.976,1)" font-size="26.0" stroke="#000" stroke-width="0.6">13/2</text>
</g>
<line x1="492.1" y1="889" x2="492.1" y2="938" stroke="#b0b0b0" stroke-width="2.4"/>
<line x1="492.1" y1="937.5" x2="492.1" y2="1064" stroke="#000" stroke-width="3"/>
<polygon points="485.2,1061.5 499,1061.5 495.2,1068 492.1,1086 489,1068" fill="#000"/>
<line x1="606.8" y1="1060.5" x2="597.0" y2="1098" stroke="#000" stroke-width="3" stroke-dasharray="3.2 5.6"/>
<polygon points="587.3,1096.6 603,1101.3 589.4,1124.5" fill="#000"/>
</g>
</svg>
</body></html>
